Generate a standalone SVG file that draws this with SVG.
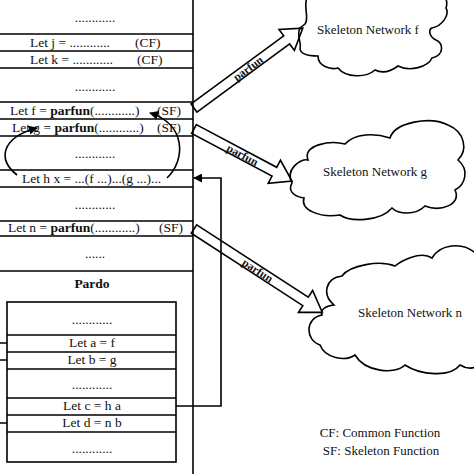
<svg xmlns="http://www.w3.org/2000/svg" width="474" height="474" viewBox="0 0 474 474">
<defs>
<style>
.ln{stroke:#000;stroke-width:1.6;fill:none}
.t{font-family:"Liberation Serif","Times New Roman",serif;font-size:13.5px;fill:#111}
.c{text-anchor:middle}
.b{font-weight:bold}
.lab{font-family:"Liberation Serif",serif;font-size:11.5px;font-weight:bold;text-anchor:middle;fill:#111}
.cloud{fill:#fff;stroke:#000;stroke-width:1.6}
.blk{fill:none;stroke:#000;stroke-width:1.6;stroke-linejoin:miter}
</style>
<marker id="ah" viewBox="0 0 10 10" refX="9" refY="5" markerWidth="9" markerHeight="9" markerUnits="userSpaceOnUse" orient="auto">
<path d="M0,0 L10,5 L0,10 Z" fill="#000"/>
</marker>
</defs>
<rect width="474" height="474" fill="#fff"/>

<g id="main-column">
<path class="ln" d="M193,0 V474"/>
<path class="ln" d="M0,34 H193 M0,51 H193 M0,68 H193 M0,102 H193 M0,119 H193 M0,136 H193 M0,170 H193 M0,187 H193 M0,221 H193 M0,236 H193 M0,271 H193"/>
<text class="t c" x="95" y="22">............</text>
<text class="t" x="30" y="47">Let j = ............<tspan x="135">(CF)</tspan></text>
<text class="t" x="30" y="64">Let k = ............<tspan x="137">(CF)</tspan></text>
<text class="t c" x="95" y="91">............</text>
<text class="t" x="10" y="115">Let f = <tspan class="b">parfun</tspan>(............)<tspan x="157">(SF)</tspan></text>
<text class="t" x="12" y="132">Let g = <tspan class="b">parfun</tspan>(............)<tspan x="157">(SF)</tspan></text>
<text class="t c" x="95" y="158">............</text>
<text class="t" x="22" y="183">Let h x = ...(f ...)...(g ...)...</text>
<text class="t c" x="95" y="209">............</text>
<text class="t" x="8" y="232">Let n = <tspan class="b">parfun</tspan>(............)<tspan x="159">(SF)</tspan></text>
<text class="t c" x="95" y="258">......</text>
<text class="t c b" x="92" y="288">Pardo</text>
</g>

<g id="pardo-box">
<rect class="ln" x="7" y="302" width="169" height="160"/>
<path class="ln" d="M7,335 H176 M7,352 H176 M7,369 H176 M7,398 H176 M7,415 H176 M7,432 H176"/>
<text class="t c" x="92" y="324">............</text>
<text class="t c" x="92" y="347">Let a = f</text>
<text class="t c" x="92" y="364">Let b = g</text>
<text class="t c" x="92" y="389">............</text>
<text class="t c" x="92" y="410">Let c = h a</text>
<text class="t c" x="92" y="427">Let d = n b</text>
<text class="t c" x="92" y="453">............</text>
</g>

<g id="cloud-f">
<path class="cloud" d="M308,-5 C302,5 310,18 305,24 L300,28 C296,35 302,44 300,48 C300,55 310,56 318,56 C318,66 330,70 338,68 C346,78 366,78 375,70 C385,75 394,69 398,66 C410,72 428,67 432,58 C445,55 443,43 436,40 C428,36 429,29 432,28 C442,26 450,15 446,8 C448,2 446,-5 440,-6 Z"/>
<text class="t" x="317" y="34" style="font-size:13px">Skeleton Network f</text>
</g>

<g id="cloud-g">
<path class="cloud" d="M292,183 C285,170 300,158 308,160 C302,145 330,140 345,144 C355,133 375,133 390,138 C395,122 430,116 448,125 C465,132 468,150 458,160 C470,170 465,185 455,190 C462,205 440,212 425,206 C415,216 398,214 392,208 C380,222 350,222 340,215 C320,218 300,210 304,198 C292,196 288,190 292,183 Z"/>
<text class="t" x="323" y="176" style="font-size:13px">Skeleton Network g</text>
</g>

<g id="cloud-n">
<path class="cloud" d="M480,254 L474,252 C462,242 440,244 432,258 C420,250 400,262 395,266 C380,260 350,265 342,276 C325,278 322,295 334,305 C325,306 320,310 322,315 C305,318 305,340 320,345 C325,358 345,362 355,355 C365,372 395,375 405,365 C420,375 450,378 460,365 C468,370 474,368 480,366 Z"/>
<text class="t" x="358" y="317" style="font-size:13px">Skeleton Network n</text>
</g>

<g id="legend">
<text class="t c" x="380" y="437" style="font-size:13px">CF: Common Function</text>
<text class="t c" x="381" y="455" style="font-size:13px">SF: Skeleton Function</text>
</g>

<g id="connectors">
<g transform="translate(194,108) rotate(-36.3)">
<polygon class="blk" points="0,-5 115,-5 115,-13 135,0 115,13 115,5 0,5"/>
<text class="lab" x="67" y="4">parfun</text>
</g>
<g transform="translate(194,129) rotate(28)">
<polygon class="blk" points="0,-5 91,-5 91,-13 111,0 91,13 91,5 0,5"/>
<text class="lab" x="55" y="4">parfun</text>
</g>
<g transform="translate(194,229) rotate(33)">
<polygon class="blk" points="0,-5 133,-5 133,-13 153,0 133,13 133,5 0,5"/>
<text class="lab" x="76" y="4">parfun</text>
</g>
<path class="ln" d="M176,406 H221 V178 H194" marker-end="url(#ah)"/>
<path class="ln" d="M17,175 C-2,160 0,138 37,128" marker-end="url(#ah)"/>
<path class="ln" d="M167,178 C186,160 186,124 150,113" marker-end="url(#ah)"/>
<path class="ln" d="M0,343 H7 M0,360 H7 M0,423 H7"/>
</g>
</svg>
